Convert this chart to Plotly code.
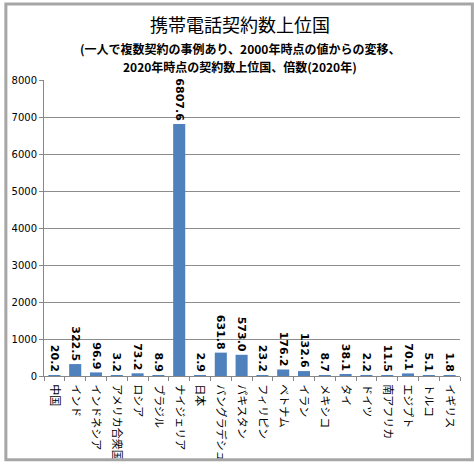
import plotly.graph_objects as go

countries = ["中国", "インド", "インドネシア", "アメリカ合衆国", "ロシア", "ブラジル", "ナイジェリア", "日本",
             "バングラデシュ", "パキスタン", "フィリピン", "ベトナム", "イラン", "メキシコ", "タイ", "ドイツ",
             "南アフリカ", "エジプト", "トルコ", "イギリス"]
ratios = [20.2, 322.5, 96.9, 3.2, 73.2, 8.9, 6807.6, 2.9, 631.8, 573.0,
          23.2, 176.2, 132.6, 8.7, 38.1, 2.2, 11.5, 70.1, 5.1, 1.8]
y_ticks = [0, 1000, 2000, 3000, 4000, 5000, 6000, 7000, 8000]

W, H = 474, 474
ml, mr, mt, mb = 40, 14, 80, 88
pw, ph = W - ml - mr, H - mt - mb

fig = go.Figure(go.Bar(
    x=countries, y=ratios,
    marker=dict(color="#4F81BD", line=dict(width=0)),
    text=[f"{v:.1f}" for v in ratios],
    textposition="outside", textangle=90, cliponaxis=False, constraintext="none",
    textfont=dict(family="DejaVu Sans", size=11, color="black", weight="bold"),
))

fig.update_layout(
    width=W, height=H,
    margin=dict(l=ml, r=mr, t=mt, b=mb),
    paper_bgcolor="white", plot_bgcolor="white",
    showlegend=False, bargap=0.42,
    font=dict(family="Noto Sans CJK JP", color="black"),
)
fig.update_xaxes(
    type="category", tickangle=90, tickson="boundaries",
    ticks="outside", ticklen=4, tickcolor="#888", ticklabelstandoff=5,
    showline=True, linecolor="#888", linewidth=1,
    tickfont=dict(family="Noto Sans CJK JP", size=11, color="black"),
)
fig.update_yaxes(
    range=[0, 8000], tickvals=y_ticks, ticktext=[str(t) for t in y_ticks],
    showgrid=True, gridcolor="#8c8c8c", gridwidth=1,
    showline=True, linecolor="#888", ticks="outside", ticklen=4, tickcolor="#888",
    tickfont=dict(family="DejaVu Sans", size=10, color="black"), zeroline=False,
)

cx = (238 - ml) / pw
fig.add_annotation(text="携帯電話契約数上位国", xref="paper", yref="paper",
                   x=cx, y=1 + (mt - 22) / ph, showarrow=False,
                   font=dict(size=18, family="Noto Sans CJK JP"), xanchor="center", yanchor="middle")
fig.add_annotation(text="<b>(一人で複数契約の事例あり、2000年時点の値からの変移、</b>", xref="paper", yref="paper",
                   x=cx, y=1 + (mt - 47) / ph, showarrow=False,
                   font=dict(size=12, family="Noto Sans CJK JP"), xanchor="center", yanchor="middle")
fig.add_annotation(text="<b>2020年時点の契約数上位国、倍数(2020年)</b>", xref="paper", yref="paper",
                   x=cx, y=1 + (mt - 66) / ph, showarrow=False,
                   font=dict(size=12, family="Noto Sans CJK JP"), xanchor="center", yanchor="middle")

fig.add_shape(type="rect", xref="paper", yref="paper",
              x0=(-ml + 1.5) / pw, x1=1 + (mr - 1.5) / pw,
              y0=(-mb + 1.5) / ph, y1=1 + (mt - 1.5) / ph,
              line=dict(color="#a6a6a6", width=3), fillcolor="rgba(0,0,0,0)", layer="above")

fig.write_html("out.html", config={"displayModeBar": False},
               post_script="document.body.style.margin='0';document.body.style.overflow='hidden';")
